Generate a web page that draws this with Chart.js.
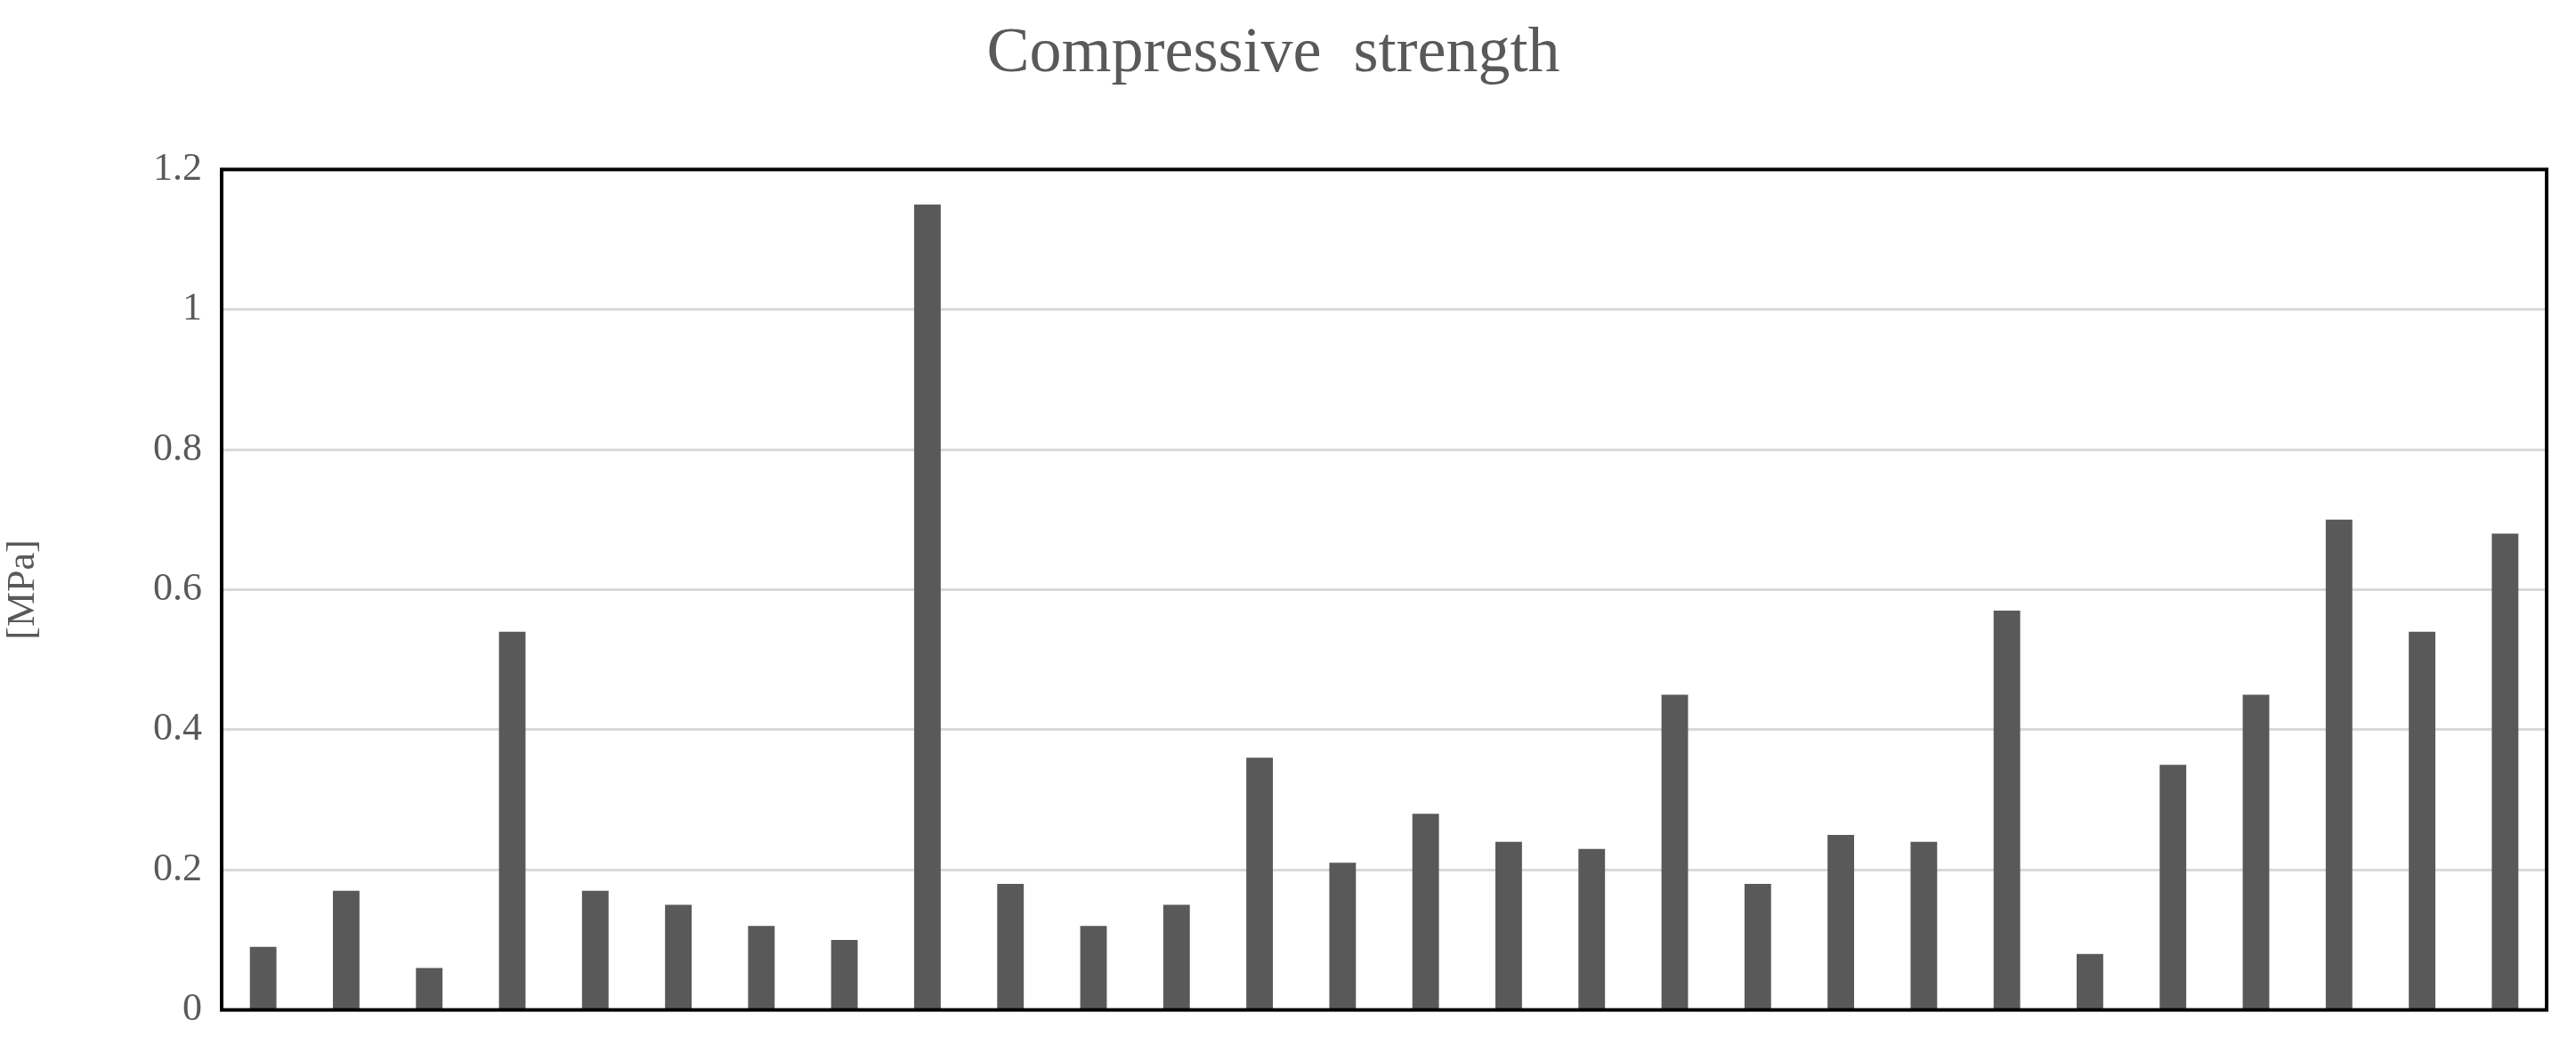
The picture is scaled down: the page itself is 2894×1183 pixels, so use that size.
<!DOCTYPE html>
<html><head><meta charset="utf-8">
<script src="https://cdn.jsdelivr.net/npm/chart.js@4"></script>
<style>html,body{margin:0;padding:0;background:#fff}#w{width:2894px;height:1183px}</style>
</head><body><div id="w"><canvas id="c"></canvas></div>
<script>
const categories = Array.from({length:28},(_,i)=>String(i+1));
const values = [0.09,0.17,0.06,0.54,0.17,0.15,0.12,0.10,1.15,0.18,0.12,0.15,0.36,0.21,0.28,0.24,0.23,0.45,0.18,0.25,0.24,0.57,0.08,0.35,0.45,0.70,0.54,0.68];
const yTicks = [0,0.2,0.4,0.6,0.8,1,1.2];
const frame = {id:'frame',afterDraw(ch){const a=ch.chartArea,c=ch.ctx;c.save();c.strokeStyle='#000';c.lineWidth=4;c.strokeRect(a.left,a.top,a.right-a.left,a.bottom-a.top);c.restore();}};
new Chart(document.getElementById('c'),{
 type:'bar',
 data:{labels:categories,datasets:[{data:values,backgroundColor:'#595959',barPercentage:0.32,categoryPercentage:1}]},
 options:{responsive:true,maintainAspectRatio:false,animation:false,
  layout:{padding:{left:0,right:33,top:0,bottom:0}},
  plugins:{legend:{display:false},tooltip:{enabled:false},
   title:{display:true,text:'Compressive  strength',color:'#595959',font:{family:'Liberation Serif',size:72,weight:'normal'},padding:{top:18,bottom:86}}},
  scales:{
   x:{grid:{display:false},border:{display:false},ticks:{display:false},afterFit(s){s.height=27;}},
   y:{min:0,max:1.2,afterBuildTicks(s){s.ticks=yTicks.map(v=>({value:v}));},
    grid:{color:'#d9d9d9',lineWidth:3,drawTicks:false},border:{display:false},
    ticks:{color:'#595959',padding:22,font:{family:'Liberation Serif',size:44},callback:v=>String(v)},
    title:{display:true,text:'[MPa]',color:'#595959',font:{family:'Liberation Serif',size:44},padding:{top:0,bottom:40}},
    afterFit(s){s.width=249;}}
  }},
 plugins:[frame]
});
</script></body></html>
